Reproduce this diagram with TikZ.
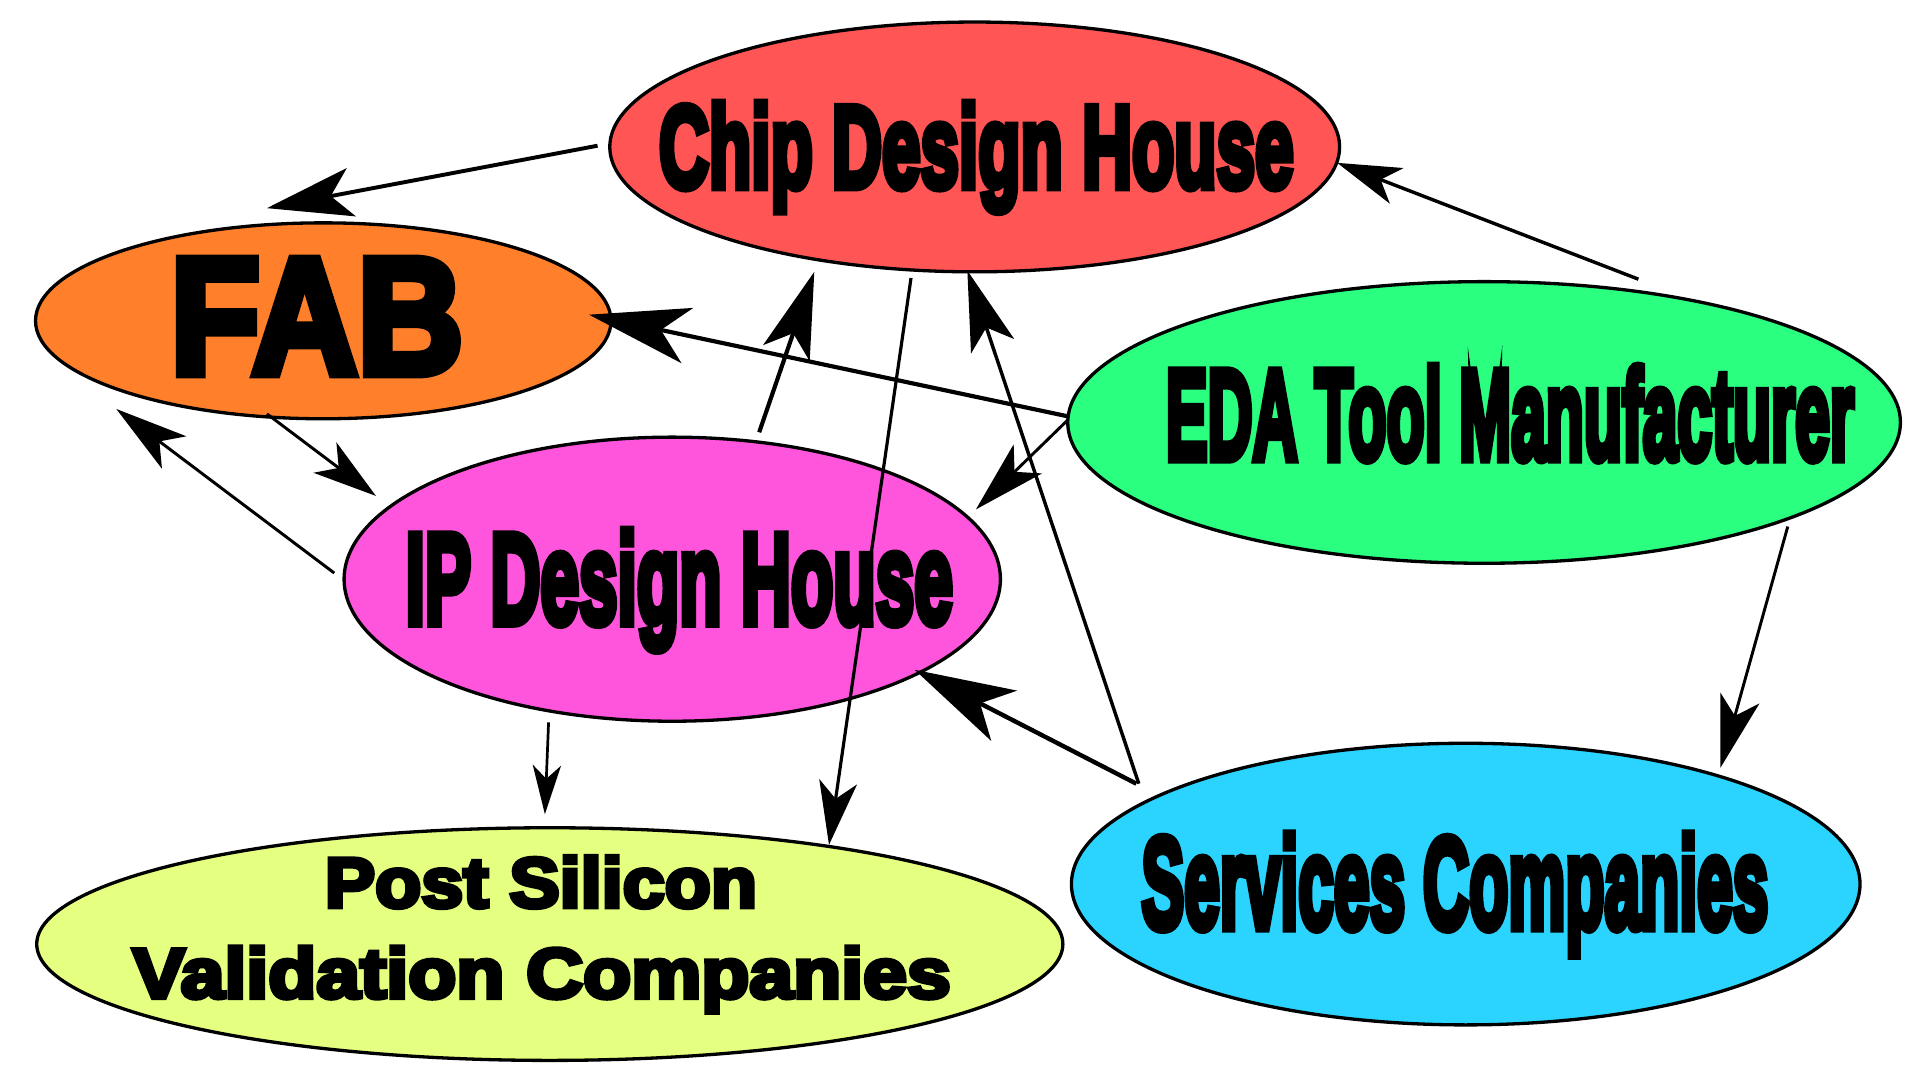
\documentclass[tikz,border=0pt]{standalone}
\usepackage{fontspec}
\usepackage{graphicx}
\usetikzlibrary{shapes.geometric,arrows.meta}
\newfontfamily\heavy{Liberation Sans}[BoldFeatures={FakeBold=7}]
\newfontfamily\wideheavy{Liberation Sans}[BoldFeatures={FakeBold=6}]
\definecolor{chipc}{HTML}{FF5555}
\definecolor{fabc}{HTML}{FF7F2A}
\definecolor{edac}{HTML}{2AFF80}
\definecolor{ipc}{HTML}{FF55DD}
\definecolor{postc}{HTML}{E5FF80}
\definecolor{servc}{HTML}{2AD4FF}
\tikzset{
  ell/.style={ellipse, draw=black, line width=2.7pt, inner sep=0pt},
  lbl/.style={inner sep=0pt, anchor=base west},
  conn/.style={line width=#1, line cap=butt},
  hxl/.style={-{Stealth[length=82pt,width=46pt,inset=22pt]}},
  hl/.style={-{Stealth[length=70pt,width=40pt,inset=17pt]}},
  hm/.style={-{Stealth[length=59pt,width=33pt,inset=15pt]}},
  hs/.style={-{Stealth[length=52pt,width=31pt,inset=14pt]}},
  hxs/.style={-{Stealth[length=40pt,width=23pt,inset=11pt]}}
}
\begin{document}
\begin{tikzpicture}[x=1pt,y=-1pt]
\useasboundingbox (0,0) rectangle (1568,882);
\fill[white] (0,0) rectangle (1568,882);
% ellipses
\node[ell, fill=chipc, minimum width=596pt, minimum height=204pt] (chip) at (796,120) {};
\node[ell, fill=fabc, minimum width=470pt, minimum height=160pt] (fab) at (264,262) {};
\node[ell, fill=edac, minimum width=680pt, minimum height=230pt] (eda) at (1212,345) {};
\node[ell, fill=ipc, minimum width=536pt, minimum height=232pt] (ip) at (549,473) {};
\node[ell, fill=postc, minimum width=838pt, minimum height=190pt] (post) at (449,771) {};
\node[ell, fill=servc, minimum width=644pt, minimum height=230pt] (serv) at (1197,722) {};
% labels
\node[lbl] (chiplbl) at (538,153) {\resizebox{518pt}{69pt}{\heavy\bfseries Chip Design House}};
\node[lbl] (fablbl) at (139,305) {\resizebox{239pt}{93pt}{\wideheavy\bfseries FAB}};
\node[lbl] (edalbl) at (952,375) {\resizebox{562pt}{76pt}{\heavy\bfseries EDA Tool Manufacturer}};
\node[lbl] (iplbl) at (331,509) {\resizebox{447pt}{76pt}{\heavy\bfseries IP Design House}};
\node[lbl] (postlbl1) at (265,741) {\resizebox{353pt}{42pt}{\wideheavy\bfseries Post Silicon}};
\node[lbl] (postlbl2) at (108,815) {\resizebox{668pt}{42pt}{\wideheavy\bfseries Validation Companies}};
\node[lbl] (servlbl) at (932,758) {\resizebox{512pt}{77pt}{\heavy\bfseries Services Companies}};
% connectors
\draw[conn=3.2pt, hl] ([shift={(-308,-1)}]chip.center) -- ([shift={(-46,-92)}]fab.center);
\draw[conn=3.4pt, hxl] ([shift={(-340,-5)}]eda.center) -- ([shift={(217,-5)}]fab.center);
\draw[conn=2.8pt, hs] ([shift={(126,-117)}]eda.center) -- ([shift={(296,13)}]chip.center);
\draw[conn=2.4pt, hm] ([shift={(-340,-2)}]eda.center) -- ([shift={(248,-57)}]ip.center);
\draw[conn=2.4pt, hm] ([shift={(248,85)}]eda.center) -- ([shift={(208,-95)}]serv.center);
\draw[conn=2.4pt, hs] ([shift={(-46,76)}]fab.center) -- ([shift={(-242,-68)}]ip.center);
\draw[conn=2.4pt, hm] ([shift={(-276,-5)}]ip.center) -- ([shift={(-169,72)}]fab.center);
\draw[conn=3.4pt, hl] ([shift={(71,-120)}]ip.center) -- ([shift={(-131,102)}]chip.center);
\draw[conn=2.6pt, hs] ([shift={(-52,107)}]chip.center) -- ([shift={(228,-81)}]post.center);
\draw[conn=2.8pt, -{Stealth[length=65pt,width=37pt,inset=16pt]}] ([shift={(-267,-82)}]serv.center) -- ([shift={(-6,101)}]chip.center);
\draw[conn=3.6pt, hxl] ([shift={(-269,-82)}]serv.center) -- ([shift={(198,74)}]ip.center);
\draw[conn=2.2pt, hxs] ([shift={(-101,117)}]ip.center) -- ([shift={(-4,-106)}]post.center);
\end{tikzpicture}
\end{document}
